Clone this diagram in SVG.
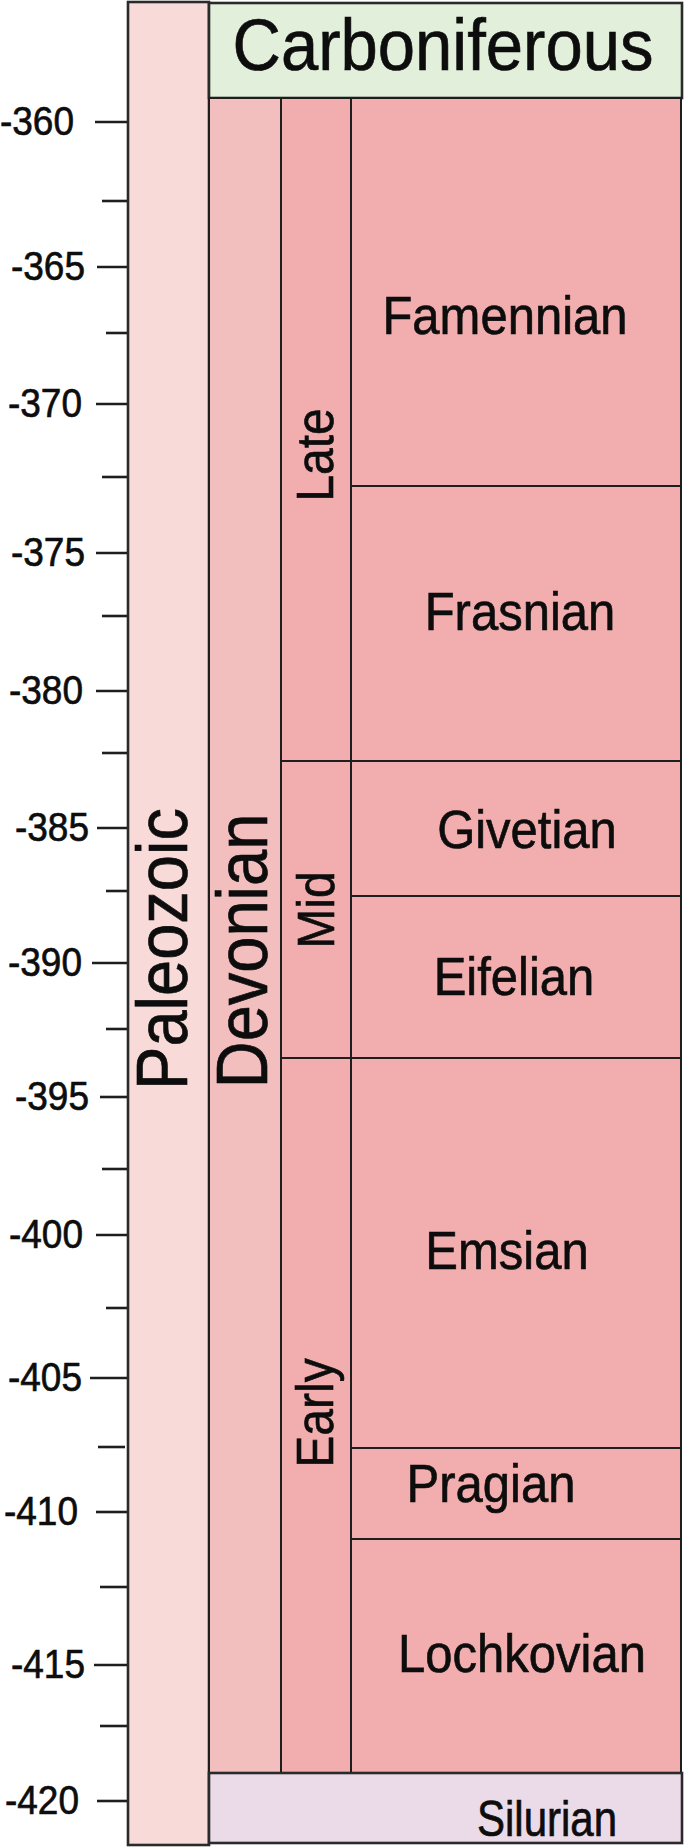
<svg xmlns="http://www.w3.org/2000/svg" width="685" height="1848" viewBox="0 0 685 1848">
<style>
.t{font-family:"Liberation Sans",Arial,sans-serif;fill:#0d0d0d;stroke:#0d0d0d;stroke-width:0.6}
.ax{font-size:37px;text-anchor:end}
.st{font-size:49px;text-anchor:middle}
.ep{font-size:48px;text-anchor:middle}
.bx{stroke:#1e1e1e;stroke-width:2}
.tk{stroke:#1e1e1e;stroke-width:2.6}
</style>
<rect width="685" height="1848" fill="#ffffff"/>
<g id="axis">
<g class="tk">
<line x1="95" y1="122" x2="130" y2="122"/><line x1="102" y1="201" x2="127" y2="201"/>
<line x1="97" y1="267" x2="130" y2="267"/><line x1="106" y1="333" x2="128" y2="333"/>
<line x1="96" y1="404" x2="130" y2="404"/><line x1="102" y1="477" x2="127" y2="477"/>
<line x1="96" y1="553" x2="130" y2="553"/><line x1="102" y1="616" x2="127" y2="616"/>
<line x1="96" y1="691" x2="130" y2="691"/><line x1="102" y1="753" x2="127" y2="753"/>
<line x1="97" y1="828" x2="130" y2="828"/><line x1="106" y1="891" x2="127" y2="891"/>
<line x1="92" y1="963" x2="130" y2="963"/><line x1="106" y1="1029" x2="132" y2="1029"/>
<line x1="100" y1="1097" x2="130" y2="1097"/><line x1="102" y1="1169" x2="127" y2="1169"/>
<line x1="96" y1="1235" x2="130" y2="1235"/><line x1="106" y1="1308" x2="127" y2="1308"/>
<line x1="90" y1="1378" x2="128" y2="1378"/><line x1="98" y1="1447" x2="125" y2="1447"/>
<line x1="96" y1="1512" x2="127" y2="1512"/><line x1="100" y1="1587" x2="127" y2="1587"/>
<line x1="94" y1="1665" x2="128" y2="1665"/><line x1="100" y1="1726" x2="127" y2="1726"/>
<line x1="97" y1="1801" x2="128" y2="1801"/>
</g>
<text class="t ax" transform="translate(74,135) scale(1,1.08)">-360</text>
<text class="t ax" transform="translate(85,280) scale(1,1.08)">-365</text>
<text class="t ax" transform="translate(82,417) scale(1,1.08)">-370</text>
<text class="t ax" transform="translate(85,566) scale(1,1.08)">-375</text>
<text class="t ax" transform="translate(83,704) scale(1,1.08)">-380</text>
<text class="t ax" transform="translate(89,841) scale(1,1.08)">-385</text>
<text class="t ax" transform="translate(82,976) scale(1,1.08)">-390</text>
<text class="t ax" transform="translate(89,1110) scale(1,1.08)">-395</text>
<text class="t ax" transform="translate(83,1248) scale(1,1.08)">-400</text>
<text class="t ax" transform="translate(82,1391) scale(1,1.08)">-405</text>
<text class="t ax" transform="translate(78,1525) scale(1,1.08)">-410</text>
<text class="t ax" transform="translate(85,1678) scale(1,1.08)">-415</text>
<text class="t ax" transform="translate(79,1814) scale(1,1.08)">-420</text>
</g>
<g id="paleozoic">
<rect x="128" y="2" width="81" height="1843" fill="#f8dad8" stroke="#2a2a2a" stroke-width="2.6"/>
<text class="t" font-size="65" text-anchor="middle" transform="translate(187,949) rotate(-90) scale(1,1.1)">Paleozoic</text>
</g>
<g id="carboniferous">
<rect x="209" y="3" width="473" height="95" fill="#e2efda" stroke="#2a2a2a" stroke-width="2.6"/>
<text class="t" font-size="67" text-anchor="middle" transform="translate(443,70) scale(1,1.08)">Carboniferous</text>
</g>
<g id="devonian">
<rect class="bx" x="209" y="98" width="72" height="1675" fill="#f2bebe"/>
<text class="t" font-size="65" text-anchor="middle" transform="translate(267,951) rotate(-90) scale(1,1.1)">Devonian</text>
</g>
<g id="late">
<rect class="bx" x="281" y="98" width="70" height="663" fill="#f2aeae"/>
<text class="t ep" transform="translate(333,455) rotate(-90) scale(1,1.08)">Late</text>
</g>
<g id="mid">
<rect class="bx" x="281" y="761" width="70" height="297" fill="#f2aeae"/>
<text class="t ep" font-size="47" transform="translate(334,910) rotate(-90) scale(1,1.08)">Mid</text>
</g>
<g id="early">
<rect class="bx" x="281" y="1058" width="70" height="715" fill="#f2aeae"/>
<text class="t ep" transform="translate(333,1413) rotate(-90) scale(1,1.08)">Early</text>
</g>
<g id="famennian">
<rect class="bx" x="351" y="98" width="330" height="388" fill="#f2aeae"/>
<text class="t st" transform="translate(505,334) scale(1,1.1)">Famennian</text>
</g>
<g id="frasnian">
<rect class="bx" x="351" y="486" width="330" height="275" fill="#f2aeae"/>
<text class="t st" transform="translate(520,630) scale(1,1.1)">Frasnian</text>
</g>
<g id="givetian">
<rect class="bx" x="351" y="761" width="330" height="135" fill="#f2aeae"/>
<text class="t st" transform="translate(527,848) scale(1,1.1)">Givetian</text>
</g>
<g id="eifelian">
<rect class="bx" x="351" y="896" width="330" height="162" fill="#f2aeae"/>
<text class="t st" transform="translate(514,995) scale(1,1.1)">Eifelian</text>
</g>
<g id="emsian">
<rect class="bx" x="351" y="1058" width="330" height="390" fill="#f2aeae"/>
<text class="t st" transform="translate(507,1269) scale(1,1.1)">Emsian</text>
</g>
<g id="pragian">
<rect class="bx" x="351" y="1448" width="330" height="91" fill="#f2aeae"/>
<text class="t st" transform="translate(491,1502) scale(1,1.1)">Pragian</text>
</g>
<g id="lochkovian">
<rect class="bx" x="351" y="1539" width="330" height="234" fill="#f2aeae"/>
<text class="t st" transform="translate(522,1672) scale(1,1.1)">Lochkovian</text>
</g>
<g id="silurian">
<rect x="209" y="1773" width="473" height="70" fill="#ebdbe9" stroke="#2a2a2a" stroke-width="2.6"/>
<text class="t" font-size="42" text-anchor="middle" transform="translate(547,1836) scale(1,1.2)">Silurian</text>
</g>
<g id="connectors"></g>
</svg>
